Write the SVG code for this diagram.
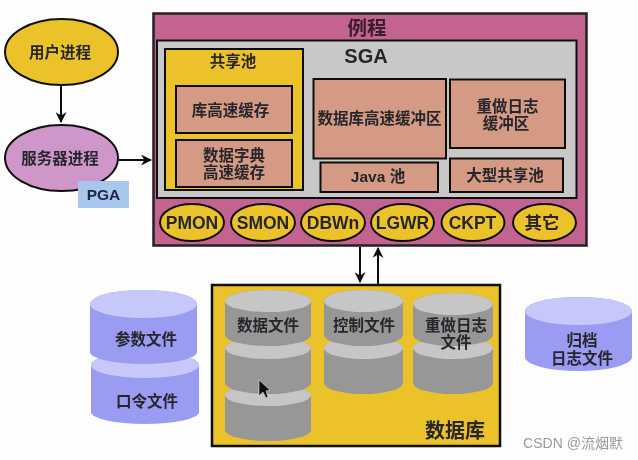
<svg xmlns="http://www.w3.org/2000/svg" width="638" height="460" viewBox="0 0 638 460">
<defs>
<style>
text{font-family:"Liberation Sans","Noto Sans CJK SC",sans-serif;fill:#26262c;text-anchor:middle;font-weight:700}
.cn{font-size:15.500px}
.pr{font-size:17.500px}
.box{fill:#d59a84;stroke:#111;stroke-width:2}
.y{fill:#ecc22c;stroke:#111;stroke-width:2}
.l{fill:none;stroke:#111;stroke-width:2}
.gb{fill:#979797}.gt{fill:#c6c6c6}
.bb{fill:#9a9cf2}.bt{fill:#c6c8fa}
</style>
<marker id="a" viewBox="0 0 10 10" refX="9" refY="5" markerWidth="5.500" markerHeight="5.500" orient="auto"><path d="M0 0L10 5L0 10L3 5Z" fill="#111"/></marker>
<filter id="s" filterUnits="userSpaceOnUse" x="0" y="0" width="638" height="460"><feGaussianBlur stdDeviation="0.45"/></filter>
</defs>
<rect width="638" height="460" fill="#fdfdfd"/>
<g filter="url(#s)">
<g id="instance">
<rect x="153.500" y="13.500" width="433" height="232" fill="#c3648f" stroke="#222" stroke-width="2.500"/>
<text x="367" y="35" style="font-size:19.500px;fill:#3a1a2c">例程</text>
</g>
<g id="sga">
<rect x="157" y="40.500" width="419.500" height="157.500" fill="#c8c8c8" stroke="#111" stroke-width="2"/>
<text x="366" y="63" style="font-size:20px">SGA</text>
</g>
<g id="shared-pool">
<rect x="165" y="49" width="138" height="141" class="y"/>
<text x="233" y="67" class="cn">共享池</text>
</g>
<g id="lib-cache"><rect x="176" y="86" width="116" height="47" class="box"/><text x="230.500" y="116" class="cn">库高速缓存</text></g>
<g id="dict-cache"><rect x="176" y="140" width="116" height="47" class="box"/><text x="234" y="161" class="cn">数据字典</text><text x="234" y="178" class="cn">高速缓存</text></g>
<g id="db-buffer"><rect x="313.500" y="79" width="132.500" height="79.500" class="box"/><text x="379.500" y="124" class="cn">数据库高速缓冲区</text></g>
<g id="redo-buffer"><rect x="450" y="79.500" width="115" height="68.500" class="box"/><text x="507.500" y="111.500" class="cn">重做日志</text><text x="506" y="129" class="cn">缓冲区</text></g>
<g id="java-pool"><rect x="320.500" y="162.500" width="117.500" height="29.500" class="box"/><text x="378" y="182" class="cn">Java 池</text></g>
<g id="large-pool"><rect x="450" y="158.500" width="113" height="33.500" class="box"/><text x="505" y="181" class="cn">大型共享池</text></g>
<g id="pmon"><ellipse cx="192" cy="222.500" rx="32" ry="18.500" class="y"/><text x="192" y="229" class="pr">PMON</text></g>
<g id="smon"><ellipse cx="263" cy="222.500" rx="32" ry="18.500" class="y"/><text x="263" y="229" class="pr">SMON</text></g>
<g id="dbwn"><ellipse cx="333" cy="222.500" rx="32" ry="18.500" class="y"/><text x="333" y="229" class="pr">DBWn</text></g>
<g id="lgwr"><ellipse cx="402.500" cy="222.500" rx="31.500" ry="18.500" class="y"/><text x="402.500" y="229" class="pr">LGWR</text></g>
<g id="ckpt"><ellipse cx="473" cy="222.500" rx="31.500" ry="18.500" class="y"/><text x="472.500" y="229" class="pr">CKPT</text></g>
<g id="other"><ellipse cx="544.500" cy="222.500" rx="31.500" ry="18.500" class="y"/><text x="542" y="229" class="pr">其它</text></g>
<g id="user-process"><ellipse cx="61.500" cy="52" rx="56.500" ry="33" class="y"/><text x="60" y="58" class="cn">用户进程</text></g>
<g id="server-process"><ellipse cx="61.500" cy="158" rx="56.500" ry="33" fill="#cf97c9" stroke="#111" stroke-width="2"/><text x="60" y="164" class="cn">服务器进程</text></g>
<g id="pga"><rect x="78" y="181" width="51" height="27" fill="#a9c6ec"/><text x="103.500" y="200" style="font-size:15.500px;fill:#1c2540">PGA</text></g>
<g id="connectors">
<path d="M61 85V122" class="l" marker-end="url(#a)"/>
<path d="M119 160H151" class="l" marker-end="url(#a)"/>
<path d="M360 247V282" class="l" marker-end="url(#a)"/>
<path d="M378 285V248" class="l" marker-end="url(#a)"/>
</g>
<g id="database">
<rect x="212" y="285" width="288" height="161" class="y" style="stroke-width:2.500"/>
<text x="455" y="438" style="font-size:20px">数据库</text>
</g>
<g id="password-file">
<path d="M91 365A54 13 0 0 1 199 365V412A54 12 0 0 1 91 412Z" class="bb"/>
<ellipse cx="145" cy="365" rx="54" ry="13" class="bt"/>
<text x="147" y="407" class="cn">口令文件</text>
</g>
<g id="param-file">
<path d="M90 304A53.500 14 0 0 1 197 304V352A53.500 12 0 0 1 90 352Z" class="bb"/>
<ellipse cx="143.500" cy="304" rx="53.500" ry="14" class="bt"/>
<text x="146" y="345" class="cn">参数文件</text>
</g>
<g id="archive-file">
<path d="M525 311A53.500 14 0 0 1 632 311V357A53.500 14 0 0 1 525 357Z" class="bb"/>
<ellipse cx="578.500" cy="311" rx="53.500" ry="14" class="bt"/>
<text x="582" y="346" class="cn">归档</text><text x="582" y="364" class="cn">日志文件</text>
</g>
<g id="data-file">
<path d="M225 395A43 11 0 0 1 311 395V430A43 11 0 0 1 225 430Z" class="gb"/>
<ellipse cx="268" cy="395" rx="43" ry="11" class="gt"/>
<path d="M225 348A43 11 0 0 1 311 348V383A43 11 0 0 1 225 383Z" class="gb"/>
<ellipse cx="268" cy="348" rx="43" ry="11" class="gt"/>
<path d="M225 301A43 11 0 0 1 311 301V335A43 11 0 0 1 225 335Z" class="gb"/>
<ellipse cx="268" cy="301" rx="43" ry="11" class="gt"/>
<text x="268" y="331" class="cn">数据文件</text>
</g>
<g id="control-file">
<path d="M324 348A39.500 11 0 0 1 403 348V383A39.500 11 0 0 1 324 383Z" class="gb"/>
<ellipse cx="363.500" cy="348" rx="39.500" ry="11" class="gt"/>
<path d="M324 301A39.500 11 0 0 1 403 301V335A39.500 11 0 0 1 324 335Z" class="gb"/>
<ellipse cx="363.500" cy="301" rx="39.500" ry="11" class="gt"/>
<text x="364" y="331" class="cn">控制文件</text>
</g>
<g id="redo-file">
<path d="M413 348A40 11 0 0 1 493 348V383A40 11 0 0 1 413 383Z" class="gb"/>
<ellipse cx="453" cy="348" rx="40" ry="11" class="gt"/>
<path d="M413 304A40 11 0 0 1 493 304V335A40 11 0 0 1 413 335Z" class="gb"/>
<ellipse cx="453" cy="304" rx="40" ry="11" class="gt"/>
<text x="456" y="331" class="cn">重做日志</text><text x="456" y="348" class="cn">文件</text>
</g>
<path d="M259 380L259 396L263 392L266 398L268 397L266 391L270 390Z" fill="#111" stroke="#fff" stroke-width="0.500"/>
<text x="573" y="448" style="font-size:14px;font-weight:400;fill:#9a9a9a">CSDN @流烟默</text>
</g>
</svg>
